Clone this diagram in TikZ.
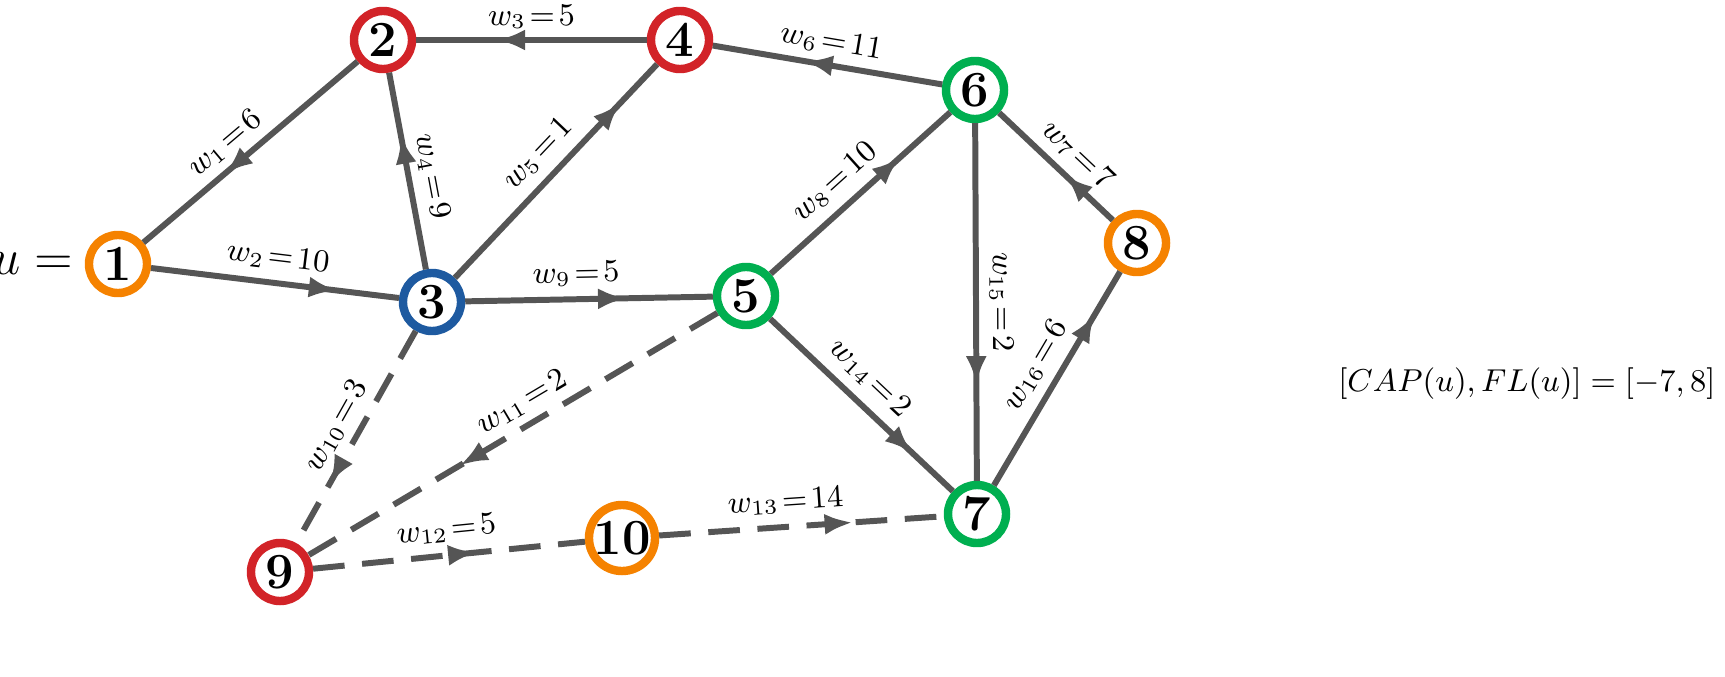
\documentclass[tikz,border=0pt]{standalone}
\usetikzlibrary{arrows.meta,decorations.markings}
\definecolor{cor}{RGB}{245,130,0}
\definecolor{cre}{RGB}{210,35,40}
\definecolor{cgr}{RGB}{0,175,80}
\definecolor{cbl}{RGB}{30,90,160}
\definecolor{ced}{RGB}{85,85,85}
\begin{document}
\begin{tikzpicture}[x=0.01cm,y=-0.01cm,
  vx/.style={circle,draw=#1,line width=2.4pt,fill=white,minimum size=0.58cm,inner sep=0pt,font=\Large\bfseries},
  ed/.style={draw=ced,line width=1.7pt},
  dd/.style={ed,dash pattern=on 9pt off 5pt},
  amid/.style={postaction={decorate},decoration={markings,mark=at position #1 with {\arrow[ced]{Latex[length=8pt,width=6pt]}}}},
  lb/.style={sloped,above,inner sep=3pt,font=\small}]
\useasboundingbox (0,0) rectangle (1725,676);
\node[vx=cor] (n1) at (118,264) {1};
\node[vx=cre] (n2) at (383,40) {2};
\node[vx=cbl] (n3) at (432,302) {3};
\node[vx=cre] (n4) at (680,40) {4};
\node[vx=cgr] (n5) at (746,296) {5};
\node[vx=cgr] (n6) at (975,90) {6};
\node[vx=cgr] (n7) at (977,514) {7};
\node[vx=cor] (n8) at (1137,243) {8};
\node[vx=cre] (n9) at (280,572) {9};
\node[vx=cor] (n10) at (622,538) {10};
\node[anchor=east,font=\Large,inner sep=3pt] (u) at (n1.west) {$u=$};
\node[anchor=east,font=\small,inner sep=0pt] (cap) at (1716,384) {$[CAP(u),FL(u)]=[-7,8]$};
\path[ed,amid=0.62] (n2) -- (n1);
\path (n1) -- node[lb,pos=0.45]{$w_1\!=\!6$} (n2);
\path[ed,amid=0.75] (n1) -- node[lb]{$w_2\!=\!10$} (n3);
\path[ed,amid=0.65] (n4) -- (n2);
\path (n2) -- node[lb]{$w_3\!=\!5$} (n4);
\path[ed,amid=0.68] (n3) -- (n2);
\path (n2) -- node[lb,pos=0.55]{$w_4\!=\!9$} (n3);
\path[ed,amid=0.82] (n3) -- node[lb,pos=0.5]{$w_5\!=\!1$} (n4);
\path[ed,amid=0.6] (n6) -- (n4);
\path (n4) -- node[lb]{$w_6\!=\!11$} (n6);
\path[ed,amid=0.42] (n8) -- (n6);
\path (n6) -- node[lb,pos=0.55]{$w_7\!=\!7$} (n8);
\path[ed,amid=0.72] (n5) -- node[lb,pos=0.45]{$w_8\!=\!10$} (n6);
\path[ed,amid=0.65] (n3) -- node[lb,pos=0.45]{$w_9\!=\!5$} (n5);
\path[dd,amid=0.72] (n3) -- (n9);
\path (n9) -- node[lb,pos=0.5]{$w_{10}\!=\!3$} (n3);
\path[dd,amid=0.63] (n5) -- (n9);
\path (n9) -- node[lb,pos=0.55]{$w_{11}\!=\!2$} (n5);
\path[dd,amid=0.6] (n9) -- node[lb,pos=0.5]{$w_{12}\!=\!5$} (n10);
\path[dd,amid=0.68] (n10) -- node[lb,pos=0.45]{$w_{13}\!=\!14$} (n7);
\path[ed,amid=0.78] (n5) -- node[lb,pos=0.45]{$w_{14}\!=\!2$} (n7);
\path[ed,amid=0.73] (n6) -- node[lb,pos=0.5]{$w_{15}\!=\!2$} (n7);
\path[ed,amid=0.8] (n7) -- node[lb,pos=0.5]{$w_{16}\!=\!6$} (n8);
\end{tikzpicture}
\end{document}
